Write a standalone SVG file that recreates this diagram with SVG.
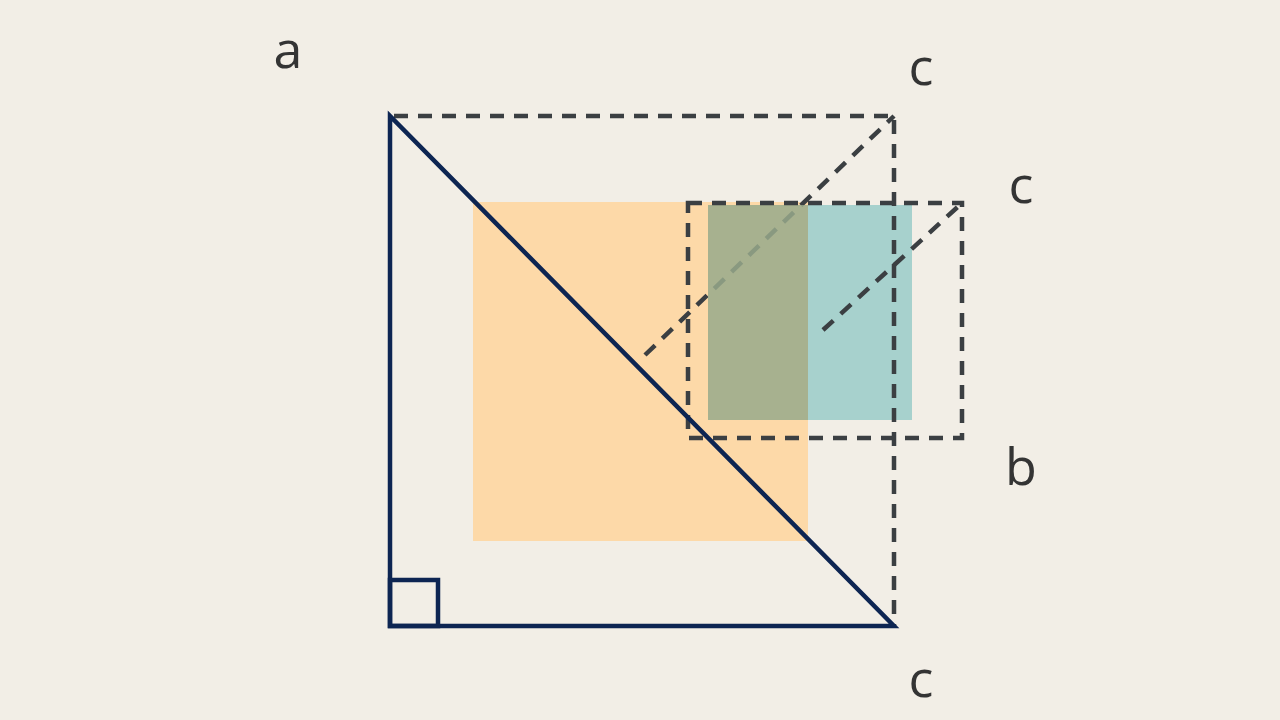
<svg xmlns="http://www.w3.org/2000/svg" width="1280" height="720" viewBox="0 0 1280 720">
<style>
.dash{fill:none;stroke:#3b3f42;stroke-width:4.5;stroke-dasharray:14 10}
.solid{fill:none;stroke:#0d2552;stroke-width:4.5;stroke-linejoin:miter}
.lbl{font-family:"Open Sans","Noto Sans",sans-serif;font-size:52px;fill:#343434;text-anchor:middle}
</style>
<rect width="1280" height="720" fill="#f2eee6"/>
<g id="orange-square"><rect x="473" y="202" width="335" height="339" fill="#fdd9a8"/></g>
<g id="connectors">
<path class="dash" d="M645,355 L894,116"/>
</g>
<g id="teal-square">
<rect x="708" y="205" width="100" height="215" fill="#98a98b" opacity="0.85"/>
<rect x="808" y="205" width="104" height="215" fill="#9acbc8" opacity="0.85"/>
</g>
<g id="dashed-lines">
<path class="dash" d="M394,116 H894 V626"/>
<rect class="dash" x="688" y="203" width="274" height="235"/>
<path class="dash" d="M823,330 L962,203"/>
</g>
<g id="triangle">
<path class="solid" d="M390,116 V626 H894 Z"/>
<rect class="solid" x="390" y="580" width="48" height="46"/>
</g>
<g id="labels">
<text class="lbl" x="288" y="68">a</text>
<text class="lbl" x="921" y="85">c</text>
<text class="lbl" x="1021" y="203">c</text>
<text class="lbl" x="1021" y="485">b</text>
<text class="lbl" x="921" y="697">c</text>
</g>
</svg>
